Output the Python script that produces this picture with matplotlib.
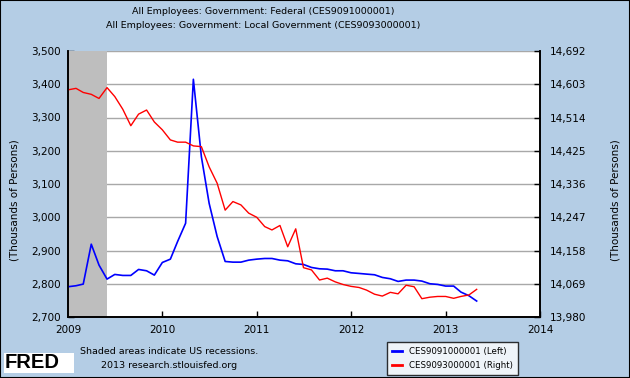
import numpy as np
import pandas as pd
import matplotlib
matplotlib.use("Agg")
import matplotlib.pyplot as plt
import matplotlib.dates as mdates
from matplotlib.patches import Rectangle
from matplotlib.ticker import FuncFormatter

# monthly values, Jan 2009 - May 2013
months = pd.date_range("2009-01-01", "2013-05-01", freq="MS")
federal = [2791, 2794, 2799, 2919, 2856, 2814, 2828, 2825, 2825, 2843, 2839, 2826,
           2864, 2874, 2927, 2982, 3415, 3182, 3042, 2942, 2867, 2865, 2865, 2871,
           2874, 2876, 2876, 2871, 2869, 2860, 2858, 2849, 2845, 2844, 2839, 2839,
           2833, 2831, 2829, 2827, 2819, 2815, 2807, 2811, 2811, 2808, 2800, 2798,
           2793, 2793, 2775, 2764, 2748]
local = [14588, 14592, 14581, 14576, 14565, 14594, 14570, 14536, 14492, 14523, 14534, 14502,
         14481, 14454, 14448, 14448, 14438, 14436, 14382, 14338, 14266, 14289, 14280, 14258,
         14247, 14222, 14213, 14225, 14168, 14216, 14112, 14106, 14079, 14084, 14074, 14067,
         14062, 14059, 14052, 14041, 14036, 14046, 14042, 14065, 14061, 14029, 14033, 14035,
         14035, 14030, 14035, 14039, 14054]

left_ticks = [2700, 2800, 2900, 3000, 3100, 3200, 3300, 3400, 3500]
right_ticks = [13980, 14069, 14158, 14247, 14336, 14425, 14514, 14603, 14692]
year_ticks = ["2009", "2010", "2011", "2012", "2013", "2014"]
recession = ("2009-01-01", "2009-06-01")

# tiny chart in the logo
icon_a = [1, 2, 1.6, 3, 2.6, 4]
icon_b = [0.6, 1.2, 1.5, 2.2, 2.0, 3.2]

BG = "#B4CDE5"
W, H = 630, 378

fig = plt.figure(figsize=(6.3, 3.78), dpi=100)
fig.patch.set_facecolor(BG)
fig.patches.append(Rectangle((0, 0), 1, 1, transform=fig.transFigure, fill=False,
                             edgecolor="black", linewidth=1.5, zorder=10))

ax = fig.add_axes([68 / W, (H - 317) / H, 472 / W, 266 / H])
ax.set_facecolor("white")
ax2 = ax.twinx()

ax.axvspan(pd.Timestamp(recession[0]), pd.Timestamp(recession[1]),
           color="#BEBEBE", zorder=2, linewidth=0)
ax.plot(months, federal, color="#0000FF", lw=1.2, zorder=3)
ax2.plot(months, local, color="#FF0000", lw=1.0)

ax.set_xlim(pd.Timestamp("2009-01-01"), pd.Timestamp("2014-01-01"))
ax.set_ylim(left_ticks[0], left_ticks[-1])
ax2.set_ylim(right_ticks[0], right_ticks[-1])
ax.set_yticks(left_ticks)
ax2.set_yticks(right_ticks)
ax.set_xticks([pd.Timestamp(y + "-01-01") for y in year_ticks])
ax.xaxis.set_major_formatter(mdates.DateFormatter("%Y"))

comma = FuncFormatter(lambda v, p: f"{v:,.0f}")
ax.yaxis.set_major_formatter(comma)
ax2.yaxis.set_major_formatter(comma)

ax.grid(axis="y", color="#A8A8A8", linewidth=1.0, zorder=1)
ax.set_axisbelow(True)

for a in (ax, ax2):
    a.spines["top"].set_visible(False)
    for s in a.spines.values():
        s.set_linewidth(1.2)
ax.tick_params(axis="both", direction="in", length=4, width=1, labelsize=7.5, pad=5)
ax.tick_params(axis="x", pad=6)
ax2.tick_params(axis="y", direction="in", length=4, width=1, labelsize=7.5, pad=7)

ax.set_ylabel("(Thousands of Persons)", fontsize=7.5)
ax2.set_ylabel("(Thousands of Persons)", fontsize=7.5)
ax.yaxis.set_label_coords((20 - 68) / 472, (317 - 200) / 266)
ax2.yaxis.set_label_coords(1 + (610 - 540) / 472, (317 - 200) / 266)

fig.text(263 / W, 1 - 12 / H, "All Employees: Government: Federal (CES9091000001)",
         ha="center", va="center", fontsize=6.8)
fig.text(263 / W, 1 - 26 / H, "All Employees: Government: Local Government (CES9093000001)",
         ha="center", va="center", fontsize=6.8)

fig.text(169 / W, 1 - 352 / H, "Shaded areas indicate US recessions.",
         ha="center", va="center", fontsize=6.8)
fig.text(169 / W, 1 - 365 / H, "2013 research.stlouisfed.org",
         ha="center", va="center", fontsize=6.8)

# FRED logo
fig.patches.append(Rectangle((4 / W, 1 - 373 / H), 70 / W, 20 / H,
                             transform=fig.transFigure, facecolor="white",
                             edgecolor="none", zorder=5))
fig.text(5 / W, 1 - 363 / H, "FRED", ha="left", va="center", fontsize=14.5,
         fontweight="bold", family="Liberation Sans", zorder=6)
icon = fig.add_axes([57 / W, 1 - 372 / H, 16 / W, 16 / H])
icon.plot(range(len(icon_a)), icon_a, color="#4E9A4E", lw=0.8)
icon.plot(range(len(icon_b)), icon_b, color="#5A7FC0", lw=0.8)
icon.set_xticks([])
icon.set_yticks([])
icon.grid(True, color="#DDDDDD", lw=0.4)
for s in icon.spines.values():
    s.set_visible(False)

# legend
h1 = plt.Line2D([], [], color="#0000FF", lw=2)
h2 = plt.Line2D([], [], color="#FF0000", lw=2)
leg = fig.legend([h1, h2], ["CES9091000001 (Left)", "CES9093000001 (Right)"],
                 loc="upper left", bbox_to_anchor=(387 / W, 1 - 342 / H),
                 fontsize=6.2, frameon=True, fancybox=False, edgecolor="black",
                 handlelength=1.1, handletextpad=0.9, borderpad=0.6,
                 labelspacing=0.55, borderaxespad=0)
leg.get_frame().set_linewidth(1.0)

fig.savefig("out.png", dpi=100, facecolor=BG)
